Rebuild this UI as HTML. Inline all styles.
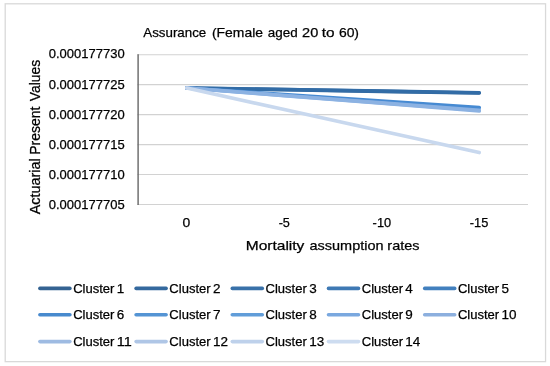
<!DOCTYPE html>
<html lang="en"><head><meta charset="utf-8"><title>Assurance (Female aged 20 to 60)</title>
<style>html,body{margin:0;padding:0;background:#fff}body{width:550px;height:366px;overflow:hidden}svg{display:block}text{font-family:"Liberation Sans",sans-serif;fill:#000;stroke:#000;stroke-width:0.25px}</style></head><body>
<svg width="550" height="366" viewBox="0 0 550 366">
<rect x="0" y="0" width="550" height="366" fill="#fff"/>
<rect x="5.2" y="3.8" width="540.35" height="357.85" fill="#fff" stroke="#d9d9d9" stroke-width="1.3"/>
<line x1="137.4" y1="54.7" x2="528" y2="54.7" stroke="#d2d2d2" stroke-width="1.1"/>
<line x1="137.4" y1="84.66" x2="528" y2="84.66" stroke="#d2d2d2" stroke-width="1.1"/>
<line x1="137.4" y1="114.62" x2="528" y2="114.62" stroke="#d2d2d2" stroke-width="1.1"/>
<line x1="137.4" y1="144.58" x2="528" y2="144.58" stroke="#d2d2d2" stroke-width="1.1"/>
<line x1="137.4" y1="174.54" x2="528" y2="174.54" stroke="#d2d2d2" stroke-width="1.1"/>
<line x1="137.4" y1="204.5" x2="528" y2="204.5" stroke="#d2d2d2" stroke-width="1.1"/>
<line x1="138.1" y1="54.2" x2="138.1" y2="204.9" stroke="#666" stroke-width="1.4"/>
<polyline points="186.75,88.00 284.25,89.67 381.75,91.33 479.25,93.00" fill="none" stroke="#346392" stroke-width="1.6" stroke-linecap="round" stroke-linejoin="round"/>
<polyline points="186.75,88.00 284.25,89.67 381.75,91.33 479.25,93.00" fill="none" stroke="#34699e" stroke-width="3.6" stroke-linecap="round" stroke-linejoin="round"/>
<polyline points="186.75,88.00 284.25,89.57 381.75,91.13 479.25,92.70" fill="none" stroke="#326ca6" stroke-width="3.6" stroke-linecap="round" stroke-linejoin="round"/>
<polyline points="186.75,88.00 284.25,94.53 381.75,101.07 479.25,107.60" fill="none" stroke="#3e79b4" stroke-width="1.6" stroke-linecap="round" stroke-linejoin="round"/>
<polyline points="186.75,88.00 284.25,94.53 381.75,101.07 479.25,107.60" fill="none" stroke="#4280be" stroke-width="1.6" stroke-linecap="round" stroke-linejoin="round"/>
<polyline points="186.75,88.00 284.25,94.53 381.75,101.07 479.25,107.60" fill="none" stroke="#468ad2" stroke-width="3.6" stroke-linecap="round" stroke-linejoin="round"/>
<polyline points="186.75,88.00 284.25,95.43 381.75,102.87 479.25,110.30" fill="none" stroke="#5494d4" stroke-width="1.6" stroke-linecap="round" stroke-linejoin="round"/>
<polyline points="186.75,88.00 284.25,95.43 381.75,102.87 479.25,110.30" fill="none" stroke="#87afe2" stroke-width="3.6" stroke-linecap="round" stroke-linejoin="round"/>
<polyline points="186.75,88.00 284.25,95.67 381.75,103.33 479.25,111.00" fill="none" stroke="#8cb2e2" stroke-width="3.6" stroke-linecap="round" stroke-linejoin="round"/>
<polyline points="186.75,88.00 284.25,109.53 381.75,131.07 479.25,152.60" fill="none" stroke="#8cafde" stroke-width="1.6" stroke-linecap="round" stroke-linejoin="round"/>
<polyline points="186.75,88.00 284.25,109.53 381.75,131.07 479.25,152.60" fill="none" stroke="#9ebbe2" stroke-width="1.6" stroke-linecap="round" stroke-linejoin="round"/>
<polyline points="186.75,88.00 284.25,109.53 381.75,131.07 479.25,152.60" fill="none" stroke="#afc6e6" stroke-width="1.6" stroke-linecap="round" stroke-linejoin="round"/>
<polyline points="186.75,88.00 284.25,109.53 381.75,131.07 479.25,152.60" fill="none" stroke="#bed1eb" stroke-width="1.6" stroke-linecap="round" stroke-linejoin="round"/>
<polyline points="186.75,88.00 284.25,109.53 381.75,131.07 479.25,152.60" fill="none" stroke="#c8d8ee" stroke-width="3.6" stroke-linecap="round" stroke-linejoin="round"/>
<text y="37.3" font-size="13.6"><tspan x="143.30" textLength="62.90" lengthAdjust="spacingAndGlyphs">Assurance</tspan> <tspan x="211.97" textLength="51.00" lengthAdjust="spacingAndGlyphs">(Female</tspan> <tspan x="267.76" textLength="29.91" lengthAdjust="spacingAndGlyphs">aged</tspan> <tspan x="302.07" textLength="16.17" lengthAdjust="spacingAndGlyphs">20</tspan> <tspan x="321.67" textLength="12.83" lengthAdjust="spacingAndGlyphs">to</tspan> <tspan x="338.90" textLength="20.11" lengthAdjust="spacingAndGlyphs">60)</tspan></text>
<text y="58.4" font-size="13.1"><tspan x="48.78" textLength="75.87" lengthAdjust="spacingAndGlyphs">0.000177730</tspan></text>
<text y="88.9" font-size="13.1"><tspan x="48.78" textLength="75.93" lengthAdjust="spacingAndGlyphs">0.000177725</tspan></text>
<text y="118.56" font-size="13.1"><tspan x="48.78" textLength="75.87" lengthAdjust="spacingAndGlyphs">0.000177720</tspan></text>
<text y="148.64" font-size="13.1"><tspan x="48.78" textLength="75.93" lengthAdjust="spacingAndGlyphs">0.000177715</tspan></text>
<text y="178.72" font-size="13.1"><tspan x="48.78" textLength="75.87" lengthAdjust="spacingAndGlyphs">0.000177710</tspan></text>
<text y="208.8" font-size="13.1"><tspan x="48.78" textLength="75.93" lengthAdjust="spacingAndGlyphs">0.000177705</tspan></text>
<text y="227.1" font-size="13.1"><tspan x="182.64" textLength="7.76" lengthAdjust="spacingAndGlyphs">0</tspan></text>
<text y="227.1" font-size="13.1"><tspan x="278.63" textLength="11.27" lengthAdjust="spacingAndGlyphs">-5</tspan></text>
<text y="227.1" font-size="13.1"><tspan x="372.62" textLength="18.53" lengthAdjust="spacingAndGlyphs">-10</tspan></text>
<text y="227.1" font-size="13.1"><tspan x="469.82" textLength="18.49" lengthAdjust="spacingAndGlyphs">-15</tspan></text>
<text y="250.4" font-size="13.6"><tspan x="245.76" textLength="58.62" lengthAdjust="spacingAndGlyphs">Mortality</tspan> <tspan x="309.52" textLength="74.00" lengthAdjust="spacingAndGlyphs">assumption</tspan> <tspan x="387.36" textLength="32.12" lengthAdjust="spacingAndGlyphs">rates</tspan></text>
<text transform="translate(40.2,214.4) rotate(-90)" y="0" font-size="14.6"><tspan x="0.10" textLength="56.05" lengthAdjust="spacingAndGlyphs">Actuarial</tspan> <tspan x="59.68" textLength="48.11" lengthAdjust="spacingAndGlyphs">Present</tspan> <tspan x="113.23" textLength="41.33" lengthAdjust="spacingAndGlyphs">Values</tspan></text>
<line x1="39.90" y1="288.4" x2="69.90" y2="288.4" stroke="#346392" stroke-width="3.6" stroke-linecap="round"/>
<text y="292.50" font-size="13.1"><tspan x="73.15" textLength="41.28" lengthAdjust="spacingAndGlyphs">Cluster</tspan> <tspan x="116.75" textLength="7.50" lengthAdjust="spacingAndGlyphs">1</tspan></text>
<line x1="136.10" y1="288.4" x2="166.10" y2="288.4" stroke="#34699e" stroke-width="3.6" stroke-linecap="round"/>
<text y="292.50" font-size="13.1"><tspan x="169.35" textLength="41.28" lengthAdjust="spacingAndGlyphs">Cluster</tspan> <tspan x="212.95" textLength="7.50" lengthAdjust="spacingAndGlyphs">2</tspan></text>
<line x1="232.30" y1="288.4" x2="262.30" y2="288.4" stroke="#3971a9" stroke-width="3.6" stroke-linecap="round"/>
<text y="292.50" font-size="13.1"><tspan x="265.55" textLength="41.28" lengthAdjust="spacingAndGlyphs">Cluster</tspan> <tspan x="309.15" textLength="7.50" lengthAdjust="spacingAndGlyphs">3</tspan></text>
<line x1="328.50" y1="288.4" x2="358.50" y2="288.4" stroke="#3e79b4" stroke-width="3.6" stroke-linecap="round"/>
<text y="292.50" font-size="13.1"><tspan x="361.75" textLength="41.28" lengthAdjust="spacingAndGlyphs">Cluster</tspan> <tspan x="405.35" textLength="7.50" lengthAdjust="spacingAndGlyphs">4</tspan></text>
<line x1="424.70" y1="288.4" x2="454.70" y2="288.4" stroke="#4280be" stroke-width="3.6" stroke-linecap="round"/>
<text y="292.50" font-size="13.1"><tspan x="457.95" textLength="41.28" lengthAdjust="spacingAndGlyphs">Cluster</tspan> <tspan x="501.55" textLength="7.50" lengthAdjust="spacingAndGlyphs">5</tspan></text>
<line x1="39.90" y1="314.7" x2="69.90" y2="314.7" stroke="#488ace" stroke-width="3.6" stroke-linecap="round"/>
<text y="318.90" font-size="13.1"><tspan x="73.15" textLength="41.28" lengthAdjust="spacingAndGlyphs">Cluster</tspan> <tspan x="116.75" textLength="7.50" lengthAdjust="spacingAndGlyphs">6</tspan></text>
<line x1="136.10" y1="314.7" x2="166.10" y2="314.7" stroke="#5494d4" stroke-width="3.6" stroke-linecap="round"/>
<text y="318.90" font-size="13.1"><tspan x="169.35" textLength="41.28" lengthAdjust="spacingAndGlyphs">Cluster</tspan> <tspan x="212.95" textLength="7.50" lengthAdjust="spacingAndGlyphs">7</tspan></text>
<line x1="232.30" y1="314.7" x2="262.30" y2="314.7" stroke="#619dd9" stroke-width="3.6" stroke-linecap="round"/>
<text y="318.90" font-size="13.1"><tspan x="265.55" textLength="41.28" lengthAdjust="spacingAndGlyphs">Cluster</tspan> <tspan x="309.15" textLength="7.50" lengthAdjust="spacingAndGlyphs">8</tspan></text>
<line x1="328.50" y1="314.7" x2="358.50" y2="314.7" stroke="#7aa8df" stroke-width="3.6" stroke-linecap="round"/>
<text y="318.90" font-size="13.1"><tspan x="361.75" textLength="41.28" lengthAdjust="spacingAndGlyphs">Cluster</tspan> <tspan x="405.35" textLength="7.50" lengthAdjust="spacingAndGlyphs">9</tspan></text>
<line x1="424.70" y1="314.7" x2="454.70" y2="314.7" stroke="#8cafde" stroke-width="3.6" stroke-linecap="round"/>
<text y="318.90" font-size="13.1"><tspan x="457.95" textLength="41.28" lengthAdjust="spacingAndGlyphs">Cluster</tspan> <tspan x="501.55" textLength="15.00" lengthAdjust="spacingAndGlyphs">10</tspan></text>
<line x1="39.90" y1="341.6" x2="69.90" y2="341.6" stroke="#9ebbe2" stroke-width="3.6" stroke-linecap="round"/>
<text y="346.00" font-size="13.1"><tspan x="73.15" textLength="41.28" lengthAdjust="spacingAndGlyphs">Cluster</tspan> <tspan x="116.75" textLength="15.00" lengthAdjust="spacingAndGlyphs">11</tspan></text>
<line x1="136.10" y1="341.6" x2="166.10" y2="341.6" stroke="#afc6e6" stroke-width="3.6" stroke-linecap="round"/>
<text y="346.00" font-size="13.1"><tspan x="169.35" textLength="41.28" lengthAdjust="spacingAndGlyphs">Cluster</tspan> <tspan x="212.95" textLength="15.00" lengthAdjust="spacingAndGlyphs">12</tspan></text>
<line x1="232.30" y1="341.6" x2="262.30" y2="341.6" stroke="#bed1eb" stroke-width="3.6" stroke-linecap="round"/>
<text y="346.00" font-size="13.1"><tspan x="265.55" textLength="41.28" lengthAdjust="spacingAndGlyphs">Cluster</tspan> <tspan x="309.15" textLength="15.00" lengthAdjust="spacingAndGlyphs">13</tspan></text>
<line x1="328.50" y1="341.6" x2="358.50" y2="341.6" stroke="#cddcf0" stroke-width="3.6" stroke-linecap="round"/>
<text y="346.00" font-size="13.1"><tspan x="361.75" textLength="41.28" lengthAdjust="spacingAndGlyphs">Cluster</tspan> <tspan x="405.35" textLength="15.00" lengthAdjust="spacingAndGlyphs">14</tspan></text>
</svg></body></html>
